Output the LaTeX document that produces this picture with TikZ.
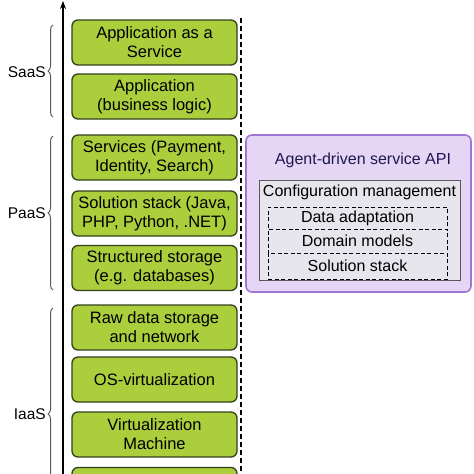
\documentclass[tikz,border=0pt]{standalone}
\usepackage{fontspec}
\setmainfont{Liberation Sans}
\usetikzlibrary{arrows.meta,decorations.pathreplacing}
\definecolor{boxgreen}{RGB}{170,206,60}
\definecolor{boxedge}{RGB}{52,64,28}
\definecolor{lavfill}{RGB}{230,214,246}
\definecolor{lavedge}{RGB}{160,118,212}
\definecolor{grayfill}{RGB}{230,230,236}
\definecolor{titleblue}{RGB}{30,24,80}
\begin{document}
\begin{tikzpicture}[x=1pt,y=-1pt,
  layer/.style={draw=boxedge,line width=1.3pt,fill=boxgreen,rounded corners=6pt,
    minimum width=165pt,minimum height=45pt,align=center,inner sep=0pt,
    font=\fontsize{16.5}{19}\selectfont},
  agentbox/.style={draw=lavedge,line width=1.6pt,fill=lavfill,rounded corners=6pt,
    minimum width=225pt,minimum height=157pt,inner sep=0pt},
  confbox/.style={draw=gray!70!black,line width=0.9pt,fill=grayfill,
    minimum width=201pt,minimum height=100pt,inner sep=0pt},
  subbox/.style={draw=black,dash pattern=on 4pt off 2.5pt,line width=0.9pt,fill=grayfill,
    minimum width=179pt,inner sep=0pt,font=\fontsize{16}{18}\selectfont},
  grp/.style={decorate,decoration={brace,amplitude=5pt},draw=gray!70!black,line width=1pt},
  grplabel/.style={anchor=east,inner sep=0pt,font=\fontsize{15.5}{17}\selectfont}]
\useasboundingbox (0,0) rectangle (474,474);
\clip (0,0) rectangle (474,474);
\fill[white] (0,0) rectangle (474,474);

% axis arrow and dashed separator
\coordinate (axbot) at (63,480);
\coordinate (axtop) at (63,1);
\draw[line width=1.4pt,-{Stealth[length=8pt,width=6pt]}] (axbot) -- (axtop);
\coordinate (dtop) at (241,18);
\coordinate (dbot) at (241,480);
\draw[line width=1.5pt,dash pattern=on 5pt off 3pt] (dtop) -- (dbot);

% layers
\node[layer] (aas) at (154.5,42.5) {Application as a\\Service};
\node[layer] (app) at (154.5,96.5) {Application\\(business logic)};
\node[layer] (srv) at (154.5,157.5) {Services (Payment,\\Identity, Search)};
\node[layer] (sol) at (154.5,213.5) {Solution stack (Java,\\PHP, Python, .NET)};
\node[layer] (sto) at (154.5,268) {Structured storage\\(e.g. databases)};
\node[layer] (raw) at (154.5,327.5) {Raw data storage\\and network};
\node[layer] (osv) at (154.5,379.5) {OS-virtualization};
\node[layer] (vm) at (154.5,434.5) {Virtualization\\Machine};
\node[layer] (hw) at (154.5,490) {};

% braces
\draw[grp] (53,117) -- (53,25) coordinate[midway] (saasm);
\draw[grp] (53,290) -- (53,136) coordinate[midway] (paasm);
\draw[grp] (53,520) -- (53,308) coordinate[midway] (iaasm);
\node[grplabel] (saas) at (46,72) {SaaS};
\node[grplabel] (paas) at (46,213) {PaaS};
\node[grplabel] (iaas) at (46,414) {IaaS};

% agent-driven service API
\node[agentbox] (agent) at (358.5,213.5) {};
\node[font=\fontsize{16}{18}\selectfont,text=titleblue,inner sep=0pt] (atitle) at (363,160) {Agent-driven service API};
\node[confbox] (conf) at (359.5,230) {};
\node[font=\fontsize{16}{18}\selectfont,inner sep=0pt] (ctitle) at (359.5,192) {Configuration management};
\node[subbox,minimum height=22pt] (da) at (357.5,218) {Data adaptation};
\node[subbox,minimum height=24pt] (dm) at (357.5,241) {Domain models};
\node[subbox,minimum height=26pt] (ss) at (357.5,266) {Solution stack};
\end{tikzpicture}
\end{document}
